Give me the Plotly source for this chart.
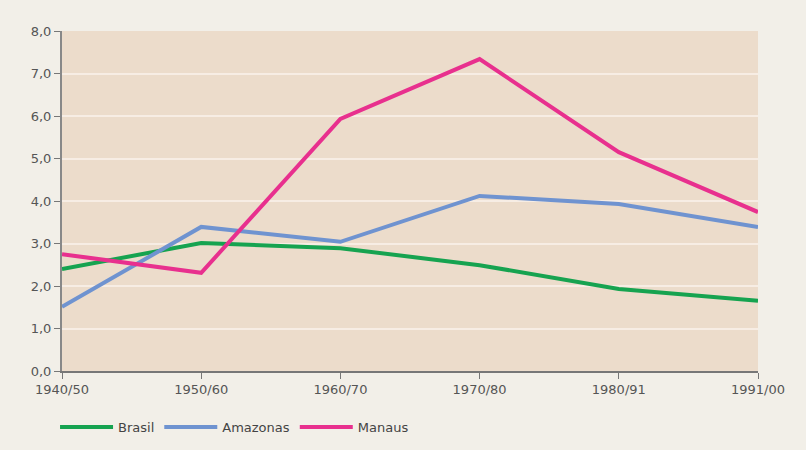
import plotly.graph_objects as go

periods = ["1940/50", "1950/60", "1960/70", "1970/80", "1980/91", "1991/00"]
brasil = [2.40, 3.01, 2.89, 2.49, 1.93, 1.65]
amazonas = [1.51, 3.39, 3.04, 4.12, 3.93, 3.39]
manaus = [2.75, 2.31, 5.93, 7.34, 5.15, 3.74]
y_ticks = [0, 1, 2, 3, 4, 5, 6, 7, 8]

series = [
    ("Brasil", brasil, "#16a350"),
    ("Amazonas", amazonas, "#6f93d0"),
    ("Manaus", manaus, "#e8308e"),
]

fig = go.Figure()
for name, vals, color in series:
    fig.add_trace(go.Scatter(x=periods, y=vals, name=name, mode="lines",
                             line=dict(color=color, width=4)))

fig.update_layout(
    width=806, height=450,
    margin=dict(l=62, r=48, t=31, b=79, autoexpand=False),
    paper_bgcolor="#f2efe8",
    plot_bgcolor="#ecdccb",
    separators=",.",
    font=dict(family="DejaVu Sans", size=13, color="#555555"),
    showlegend=True,
    legend=dict(orientation="h", x=-0.01, xanchor="left",
                yref="container", y=0.051, yanchor="middle",
                font=dict(size=13, color="#444444"), bgcolor="rgba(0,0,0,0)",
                itemwidth=53),
)
fig.update_xaxes(
    type="category", range=[0, 5],
    showline=True, linecolor="#777777", linewidth=1.5,
    ticks="outside", ticklen=6, tickcolor="#777777",
    showgrid=False, tickfont=dict(size=13, color="#555555"),
)
fig.update_yaxes(
    range=[0, 8], tickvals=y_ticks, tickformat=".1f",
    showline=True, linecolor="#888888", linewidth=2,
    ticks="outside", ticklen=6, tickcolor="#777777",
    showgrid=True, gridcolor="#f7ede4", gridwidth=1.5,
    zeroline=False, tickfont=dict(size=13, color="#555555"),
)
fig.write_html("out.html")
